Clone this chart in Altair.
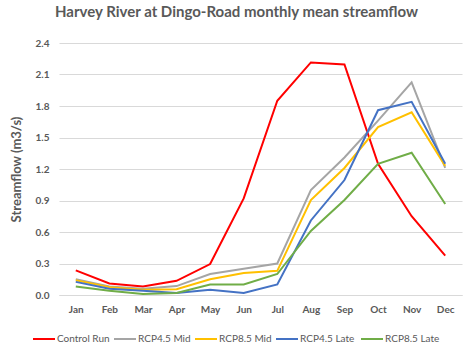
import altair as alt
import pandas as pd

months = ["Jan", "Feb", "Mar", "Apr", "May", "Jun", "Jul", "Aug", "Sep", "Oct", "Nov", "Dec"]
series_names = ["Control Run", "RCP4.5 Mid", "RCP8.5 Mid", "RCP4.5  Late", "RCP8.5  Late"]
control_run = [0.235, 0.11, 0.08, 0.135, 0.295, 0.92, 1.85, 2.215, 2.195, 1.25, 0.75, 0.375]
rcp45_mid = [0.15, 0.08, 0.06, 0.085, 0.20, 0.25, 0.30, 1.0, 1.31, 1.66, 2.025, 1.21]
rcp85_mid = [0.14, 0.075, 0.05, 0.055, 0.15, 0.21, 0.23, 0.905, 1.21, 1.60, 1.74, 1.23]
rcp45_late = [0.125, 0.06, 0.04, 0.02, 0.05, 0.02, 0.10, 0.71, 1.095, 1.76, 1.84, 1.25]
rcp85_late = [0.08, 0.04, 0.01, 0.02, 0.10, 0.10, 0.20, 0.61, 0.905, 1.25, 1.355, 0.867]
colors = ["#FF0000", "#A5A5A5", "#FFC000", "#4472C4", "#70AD47"]

rows = []
for name, vals in zip(series_names, [control_run, rcp45_mid, rcp85_mid, rcp45_late, rcp85_late]):
    for m, v in zip(months, vals):
        rows.append({"Month": m, "Series": name, "Flow": v})
df = pd.DataFrame(rows)

FONT = "Lato"
GRAY = "#595959"

chart = alt.Chart(df).mark_line(strokeWidth=2).encode(
    x=alt.X("Month:N", sort=months, scale=alt.Scale(type="point", padding=0.5),
            axis=alt.Axis(title=None, labelAngle=0, labelPadding=9, ticks=False,
                          domainColor="#D9D9D9", grid=False)),
    y=alt.Y("Flow:Q", scale=alt.Scale(domain=[0, 2.4], nice=False),
            axis=alt.Axis(title="Streamflow (m3/s)", values=[0, 0.3, 0.6, 0.9, 1.2, 1.5, 1.8, 2.1, 2.4],
                          format=".1f", domain=False, ticks=False, labelPadding=10,
                          gridColor="#D9D9D9", titlePadding=12)),
    color=alt.Color("Series:N", sort=series_names,
                    scale=alt.Scale(domain=series_names, range=colors),
                    legend=alt.Legend(title=None, orient="none", direction="horizontal",
                                      legendX=-27, legendY=284, gridAlign="none",
                                      symbolType="stroke", symbolStrokeWidth=2, symbolSize=484,
                                      labelOffset=1, columnPadding=0)),
    order=alt.value(0),
).properties(
    width=403,
    height=252,
    title=alt.TitleParams("Harvey River at Dingo-Road monthly mean streamflow", fontSize=15,
                          font=FONT, fontWeight="bold", color=GRAY, anchor="middle",
                          dx=-24, offset=18),
    padding={"left": 59, "top": 43, "right": 12, "bottom": 56},
    autosize=alt.AutoSizeParams(type="none"),
).configure_view(stroke=None).configure_axis(
    labelFont=FONT, titleFont=FONT, labelColor=GRAY, titleColor=GRAY,
    labelFontSize=10, titleFontSize=13, titleFontWeight="bold", labelFontWeight="bold"
).configure_legend(labelFont=FONT, labelFontSize=10, labelColor=GRAY)

chart.save("out.html", embed_options={"renderer": "svg", "actions": False})
